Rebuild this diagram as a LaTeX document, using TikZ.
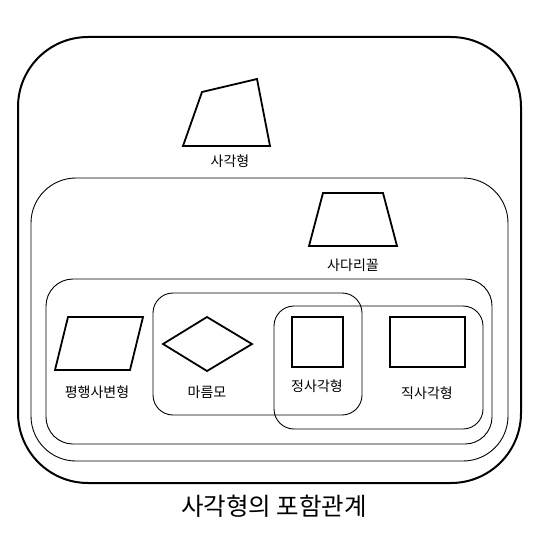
\documentclass[tikz,border=0pt]{standalone}
\usepackage{fontspec}
\setmainfont{Noto Sans CJK KR}
\begin{document}
\begin{tikzpicture}[x=1pt,y=-1pt,
  figshape/.style={draw, line width=1.8pt, line join=miter},
  setbox/.style={draw, line width=0.9pt},
  lbl/.style={font=\fontsize{14}{16}\selectfont, inner sep=0pt, anchor=center},
  ttl/.style={font=\fontsize{24.5}{28}\selectfont, inner sep=0pt, anchor=center}]
\useasboundingbox (0,0) rectangle (535,535);
% set boxes
\draw[line width=2pt, rounded corners=70pt] (18,37) rectangle (521,483);
\draw[setbox, rounded corners=45pt] (31,178) rectangle (508,461);
\draw[setbox, rounded corners=27pt] (46,279) rectangle (492,444);
\draw[setbox, rounded corners=20pt] (153,293) rectangle (362,415);
\draw[setbox, rounded corners=20pt] (274,306) rectangle (483,429);
% shapes
\draw[figshape] (202,92) -- (257,79) -- (270,146) -- (183,146) -- cycle;
\node[lbl] (quad) at (230,161) {사각형};
\draw[figshape] (323,193) -- (383,193) -- (397,246) -- (309,246) -- cycle;
\node[lbl] (trap) at (353,265) {사다리꼴};
\draw[figshape] (68,317) -- (143,317) -- (130,370) -- (55,370) -- cycle;
\node[lbl] (para) at (97,392) {평행사변형};
\draw[figshape] (163,344) -- (207,317) -- (252,344) -- (207,371) -- cycle;
\node[lbl] (rhom) at (207,392) {마름모};
\draw[figshape] (292,317) rectangle (343,367);
\node[lbl] (sq) at (317,386) {정사각형};
\draw[figshape] (390,317) rectangle (465,367);
\node[lbl] (rect) at (427,393) {직사각형};
\node[ttl] (title) at (274,506) {사각형의 포함관계};
\end{tikzpicture}
\end{document}
